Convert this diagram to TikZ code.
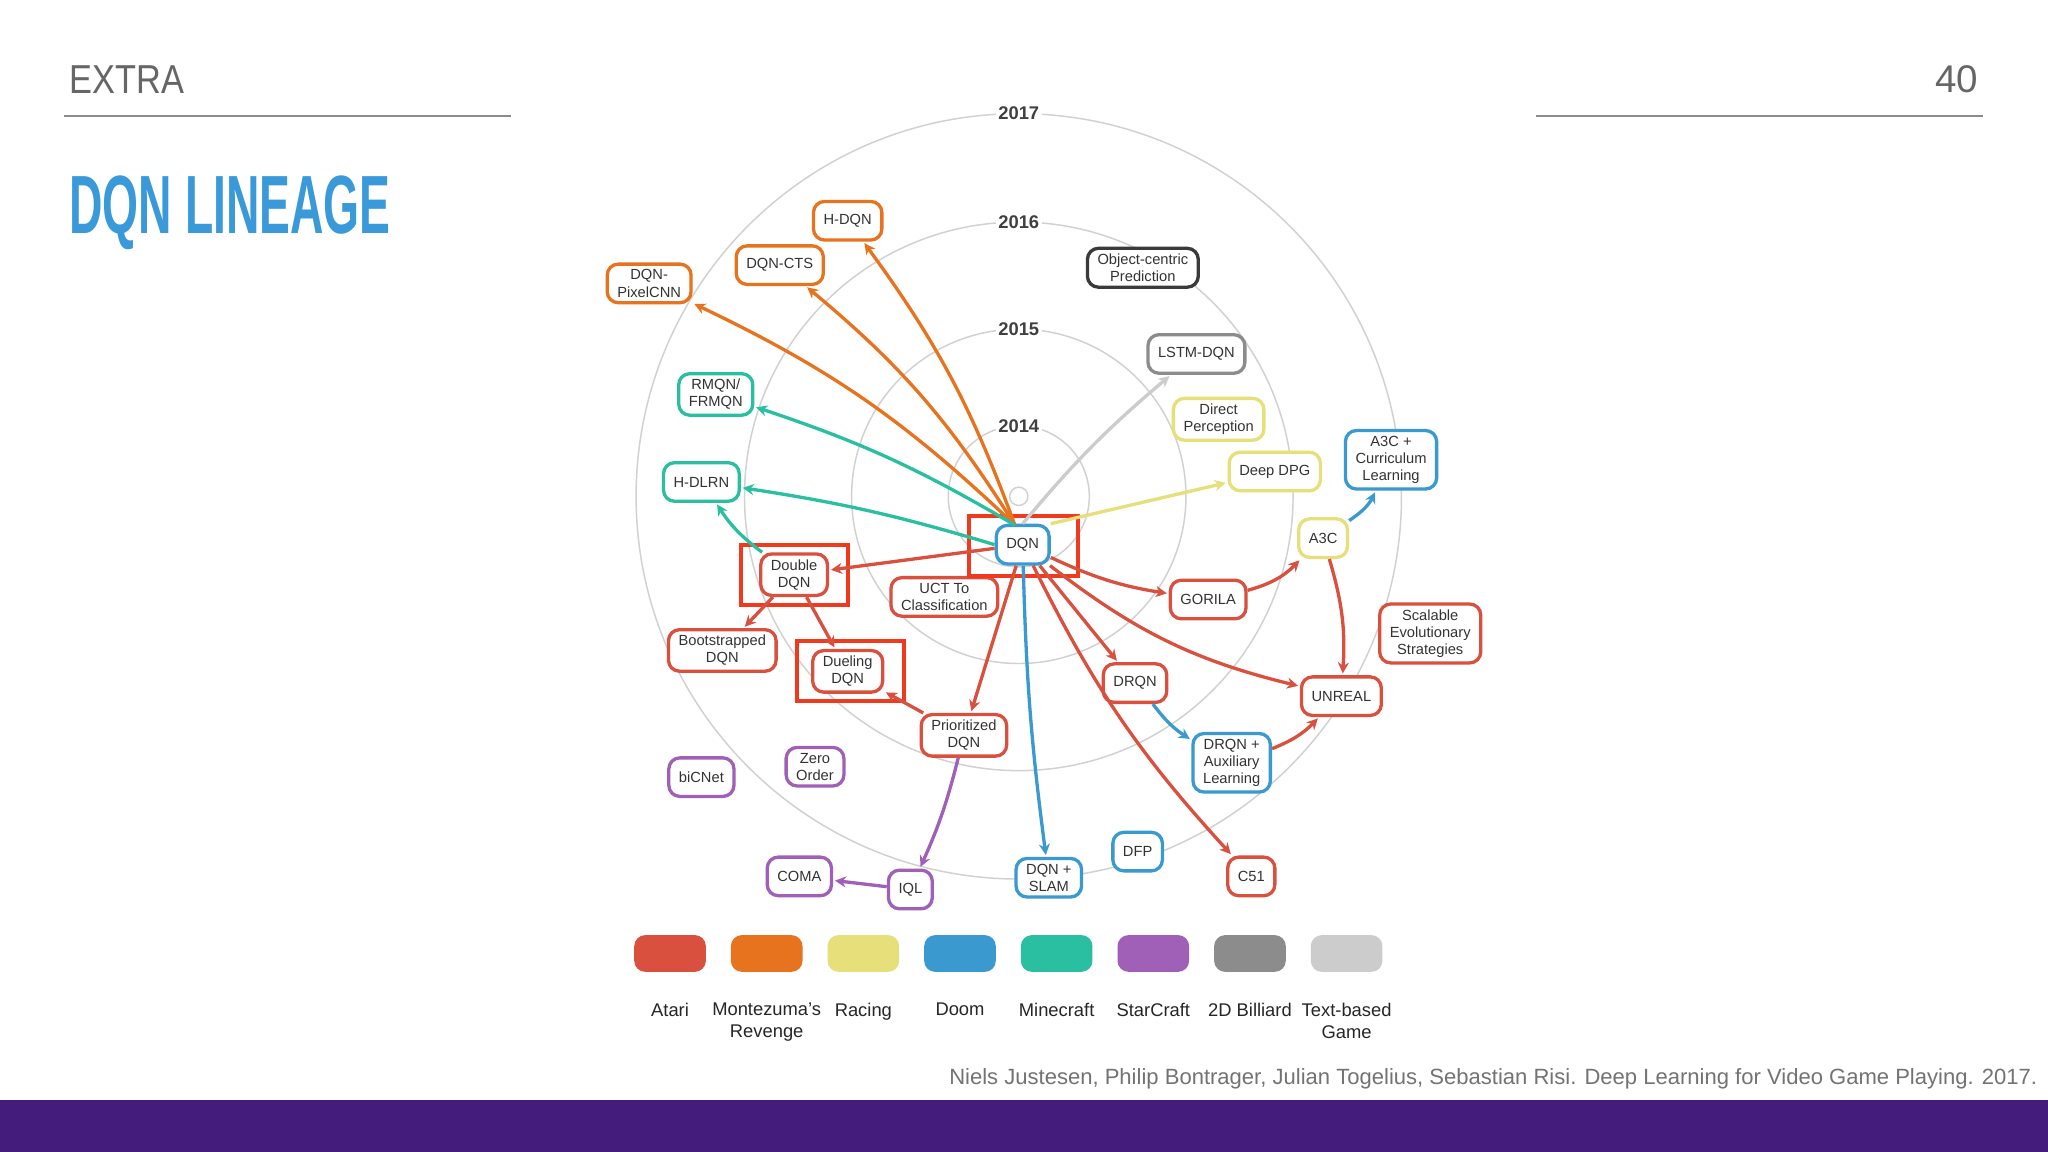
\documentclass[tikz,border=0pt]{standalone}
\usepackage{fontspec}
\setmainfont{Liberation Sans}
\usetikzlibrary{arrows.meta}
\definecolor{cA}{HTML}{D9503F}
\definecolor{cM}{HTML}{E8731E}
\definecolor{cR}{HTML}{E6DF7A}
\definecolor{cD}{HTML}{3A9AD0}
\definecolor{cC}{HTML}{29BFA0}
\definecolor{cS}{HTML}{A060B8}
\definecolor{cB}{HTML}{8C8C8C}
\definecolor{cT}{HTML}{CCCCCC}
\definecolor{cO}{HTML}{3A3A3A}
\definecolor{ttl}{HTML}{3A9AD9}
\definecolor{band}{HTML}{441C7C}
\definecolor{boxred}{HTML}{F03A1E}
\tikzset{
 nd/.style={draw=#1, line width=1.8pt, rounded corners=6pt, fill=white, align=center,
   font=\fontsize{8}{9.3}\selectfont, inner xsep=5.5pt, inner ysep=3pt, minimum height=21pt, text=black!80},
 ed/.style={draw=#1, line width=1.8pt, -{Stealth[length=6pt,width=6pt]}, shorten >=1pt},
 ring/.style={draw=black!18, line width=0.8pt},
 yr/.style={font=\bfseries\fontsize{10}{11}\selectfont, fill=white, inner sep=1.5pt, text=black!75},
 hl/.style={draw=boxred, line width=2.2pt},
 sw/.style={fill=#1, rounded corners=6pt, minimum width=39pt, minimum height=20pt, inner sep=0pt},
 lg/.style={font=\fontsize{10}{12}\selectfont, align=center, anchor=north, text=black!85}
}
\begin{document}
\begin{tikzpicture}[x=0.025cm,y=-0.025cm]
\useasboundingbox (0,0) rectangle (1568,882);
\fill[white] (0,0) rectangle (1568,882);
\fill[band] (0,842) rectangle (1568,882);
\draw[black!45, line width=1pt] (49,89) -- (391,89);
\draw[black!45, line width=1pt] (1176,89) -- (1518,89);
\node[anchor=west, xscale=0.85, transform shape, text=black!60, font=\fontsize{22}{24}\selectfont, inner sep=0] (extra) at (53,61) {EXTRA};
\node[anchor=east, text=black!60, font=\fontsize{21}{24}\selectfont, inner sep=0] (pg) at (1515,61) {40};
\node[anchor=west, xscale=0.56, transform shape, text=ttl, font=\bfseries\fontsize{45}{48}\selectfont, inner sep=0] (title) at (53,163) {DQN LINEAGE};
% rings
\coordinate (c0) at (780,380);
\draw[ring] (c0) circle (293);
\draw[ring] (c0) circle (210);
\draw[ring] (c0) circle (128);
\draw[ring] (c0) circle (54);
\draw[ring] (c0) circle (7);
\node[yr] (y17) at (780,87) {2017};
\node[yr] (y16) at (780,170) {2016};
\node[yr] (y15) at (780,252) {2015};
\node[yr] (y14) at (780,326) {2014};
% nodes
\node[nd=cM] (hdqn) at (649,169) {H-DQN};
\node[nd=cM] (cts) at (597,203) {DQN-CTS};
\node[nd=cM] (pix) at (497,217) {DQN-\\PixelCNN};
\node[nd=cO] (obj) at (875,205) {Object-centric\\Prediction};
\node[nd=cB] (lstm) at (916,271) {LSTM-DQN};
\node[nd=cR] (dp) at (933,321) {Direct\\Perception};
\node[nd=cR] (ddpg) at (976,361) {Deep DPG};
\node[nd=cD] (a3cc) at (1065,352) {A3C +\\Curriculum\\Learning};
\node[nd=cC] (rmqn) at (548,302) {RMQN/\\FRMQN};
\node[nd=cC] (hdlrn) at (537,369) {H-DLRN};
\node[nd=cD] (dqn) at (783,417) {DQN};
\node[nd=cR] (a3c) at (1013,412) {A3C};
\node[nd=cA] (ddqn) at (608,440) {Double\\DQN};
\node[nd=cA] (uct) at (723,457) {UCT To\\Classification};
\node[nd=cA] (gor) at (925,459) {GORILA};
\node[nd=cA] (ses) at (1095,485) {Scalable\\Evolutionary\\Strategies};
\node[nd=cA] (boot) at (553,498) {Bootstrapped\\DQN};
\node[nd=cA] (duel) at (649,514) {Dueling\\DQN};
\node[nd=cA] (drqn) at (869,523) {DRQN};
\node[nd=cA] (unreal) at (1027,533) {UNREAL};
\node[nd=cA] (prio) at (738,563) {Prioritized\\DQN};
\node[nd=cD] (aux) at (943,584) {DRQN +\\Auxiliary\\Learning};
\node[nd=cS] (bic) at (537,595) {biCNet};
\node[nd=cS] (zero) at (624,587) {Zero\\Order};
\node[nd=cS] (coma) at (612,671) {COMA};
\node[nd=cS] (iql) at (697,681) {IQL};
\node[nd=cD] (slam) at (803,672) {DQN +\\SLAM};
\node[nd=cD] (dfp) at (871,652) {DFP};
\node[nd=cA] (c51) at (958,671) {C51};
% highlight boxes
\draw[hl] (742,395) rectangle (825,441);
\draw[hl] (567,417) rectangle (649,463);
\draw[hl] (610,491) rectangle (692,537);
% edges
\coordinate (top) at (777,402);
\draw[ed=cM] (top) to[bend right=8] (hdqn);
\draw[ed=cM] (top) to[bend right=9] (cts);
\draw[ed=cM] (top) to[bend right=9] (pix);
\draw[ed=cC] (top) to[bend right=6] (rmqn);
\draw[ed=cC] (dqn.west) to[bend right=4] (hdlrn);
\draw[ed=cT] (dqn.north) to[bend left=5] (lstm);
\draw[ed=cR] (dqn.north east) -- (ddpg);
\draw[ed=cA] (dqn) -- (ddqn);
\draw[ed=cA] (dqn) to[bend left=-8] (gor);
\draw[ed=cA] (dqn) to[bend right=12] (unreal);
\draw[ed=cA] (dqn) -- (drqn);
\draw[ed=cA] (dqn) to[bend right=8] (c51);
\draw[ed=cA] (dqn) -- (prio);
\draw[ed=cD] (dqn) to[bend right=3] (slam);
\draw[ed=cC] (ddqn) to[bend left=10] (hdlrn);
\draw[ed=cA] (ddqn) -- (boot);
\draw[ed=cA] (ddqn) -- (duel);
\draw[ed=cA] (prio) -- (duel);
\draw[ed=cS] (prio) to[bend left=5] (iql);
\draw[ed=cS] (iql) -- (coma);
\draw[ed=cA] (gor) to[bend right=15] (a3c);
\draw[ed=cD] (a3c) to[bend right=15] (a3cc);
\draw[ed=cA] (a3c) to[bend left=10] (unreal);
\draw[ed=cD] (drqn) to[bend right=10] (aux);
\draw[ed=cA] (aux) to[bend right=12] (unreal);
% legend
\foreach \x/\c/\t [count=\i] in {513/cA/Atari,587/cM/{Montezuma's\\Revenge},661/cR/Racing,735/cD/Doom,809/cC/Minecraft,883/cS/StarCraft,957/cB/2D Billiard,1031/cT/{Text-based\\Game}}{
  \node[sw=\c] (s\i) at (\x,730) {};
  \node[lg] (l\i) at (\x,763) {\t};
}
\node[anchor=east, text=black!55, font=\fontsize{12}{14}\selectfont, inner sep=0] (cite) at (1560,826) {Niels Justesen, Philip Bontrager, Julian Togelius, Sebastian Risi. Deep Learning for Video Game Playing. 2017.};
\end{tikzpicture}
\end{document}
